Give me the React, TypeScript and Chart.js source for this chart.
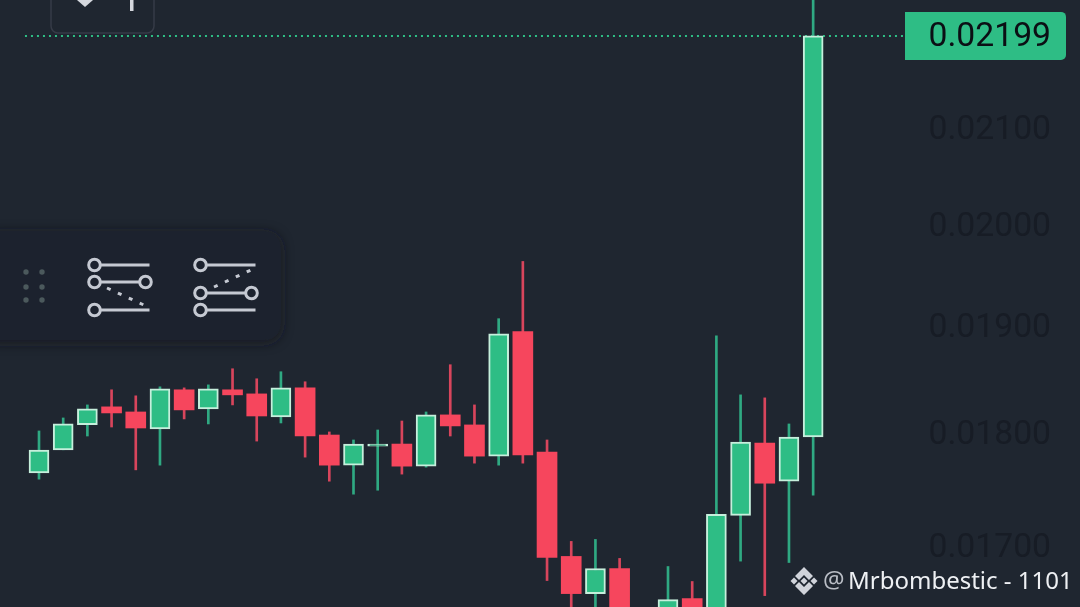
import React, { useEffect, useRef } from "react";
import { Chart, registerables } from "chart.js";

Chart.register(...registerables);

const indexes = Array.from({ length: 33 }, (_, i) => i);
const highs = [0.018004,0.018123,0.018243,0.018383,0.018327,0.018411,0.018401,0.018429,0.01858,0.018486,0.018552,0.018458,0.017995,0.017922,0.018013,0.018095,0.018178,0.018618,0.018243,0.019057,0.019617,0.017922,0.017025,0.017042,0.016879,0.016422,0.01681,0.016683,0.018893,0.018336,0.018308,0.018068,0.02264];
const lows = [0.01757,0.017833,0.017958,0.01804,0.017653,0.017695,0.018114,0.018068,0.018243,0.017912,0.018077,0.017767,0.017552,0.017437,0.017472,0.017615,0.017677,0.017958,0.017713,0.017695,0.017713,0.016691,0.016355,0.016314,0.015986,0.015986,0.016027,0.015986,0.015946,0.016856,0.016564,0.016844,0.017428];
const opens = [0.017626,0.017833,0.018062,0.018225,0.018178,0.018022,0.018383,0.018206,0.018383,0.018345,0.018132,0.018401,0.017967,0.017695,0.017867,0.017885,0.017686,0.018151,0.018059,0.017776,0.018932,0.017813,0.016896,0.016581,0.016793,0.016314,0.01619,0.016539,0.016108,0.017251,0.017894,0.017552,0.017949];
const closes = [0.017831,0.018068,0.018206,0.018169,0.018031,0.018392,0.018197,0.018392,0.018336,0.018141,0.018401,0.017958,0.017695,0.017885,0.017885,0.017686,0.018151,0.01805,0.017776,0.018912,0.017786,0.016887,0.016581,0.016793,0.01619,0.016108,0.016531,0.016108,0.01726,0.017903,0.017534,0.017949,0.02199];
const tickValues = [0.017, 0.018, 0.019, 0.02, 0.021];
const lastPrice = 0.02199;
const priceLineIndexes = [-0.58, 35.8];
const xRange = [-1.612, 43.03];
const yRange = [0.016469, 0.022393];

const GREEN = "#2ebd85";
const RED = "#f6465d";
const BG = "#1f2630";

const isUp = (i: number) => closes[i] >= opens[i];
const wicks = (up: boolean) =>
  indexes.filter((i) => isUp(i) === up).map((i) => ({ x: i, y: [lows[i], highs[i]] }));
const bodies = (up: boolean) =>
  indexes.filter((i) => isUp(i) === up).map((i) => ({ x: i, y: [opens[i], closes[i]] }));

const priceTag = {
  id: "priceTag",
  afterDatasetsDraw(chart: any) {
    const { ctx, scales } = chart;
    const y = scales.y.getPixelForValue(lastPrice);
    ctx.save();
    ctx.fillStyle = GREEN;
    ctx.beginPath();
    ctx.roundRect(905, y - 24, 161, 48, [0, 5, 5, 0]);
    ctx.fill();
    ctx.fillStyle = "#0b0f14";
    ctx.font = "33.7px Roboto";
    ctx.textAlign = "right";
    ctx.textBaseline = "middle";
    ctx.fillText(lastPrice.toFixed(5), 1051, y + 1.5);
    ctx.restore();
  },
};

export default function App() {
  const ref = useRef<HTMLCanvasElement>(null);
  useEffect(() => {
    const chart = new Chart(ref.current!, {
      type: "bar",
      plugins: [priceTag],
      data: {
        datasets: [
          { label: "up body", data: bodies(true), backgroundColor: GREEN, borderColor: "#c6efdc", borderWidth: 2, borderSkipped: false, barThickness: 20, grouped: false, order: 1 },
          { label: "down body", data: bodies(false), backgroundColor: RED, borderWidth: 0, barThickness: 20, grouped: false, order: 1 },
          { label: "up wick", data: wicks(true), backgroundColor: "#2fa982", borderWidth: 0, barThickness: 2, grouped: false, order: 2 },
          { label: "down wick", data: wicks(false), backgroundColor: "#d8455c", borderWidth: 0, barThickness: 2, grouped: false, order: 2 },
          { type: "line", label: "last price", data: priceLineIndexes.map((x) => ({ x, y: lastPrice })), borderColor: GREEN, borderWidth: 2, borderDash: [2, 4], pointRadius: 0, order: 3 },
        ] as any,
      },
      options: {
        animation: false,
        responsive: false,
        maintainAspectRatio: false,
        layout: { padding: 0 },
        plugins: { legend: { display: false }, tooltip: { enabled: false }, title: { display: false } },
        scales: {
          x: { type: "linear", offset: false, min: xRange[0], max: xRange[1], display: false, grid: { display: false } },
          y: {
            type: "logarithmic",
            position: "right",
            min: yRange[0],
            max: yRange[1],
            grid: { display: false, drawTicks: false },
            border: { display: false },
            afterFit: (s: any) => { s.width = 0; },
            afterBuildTicks: (s: any) => { s.ticks = tickValues.map((value) => ({ value })); },
            ticks: {
              mirror: true,
              padding: -29,
              labelOffset: 4,
              autoSkip: false,
              color: "#171c25",
              font: { family: "Roboto", size: 33.7 },
              callback: (v: any) => Number(v).toFixed(5),
            },
          },
        },
      } as any,
    });
    return () => chart.destroy();
  }, []);

  const stroke = { stroke: "#c5c9d2", fill: "none", strokeWidth: 3 };
  const dash = { stroke: "#c5c9d2", fill: "none", strokeWidth: 3, strokeDasharray: "4 8" };
  return (
    <div style={{ position: "fixed", left: 0, top: 0, width: 1080, height: 607, background: BG, overflow: "hidden" }}>
      <canvas ref={ref} width={1080} height={607} style={{ display: "block", width: 1080, height: 607 }} />
      <svg width={1080} height={607} style={{ position: "absolute", left: 0, top: 0 }}>
        <defs>
          <filter id="sh" x="-20%" y="-30%" width="140%" height="160%">
            <feDropShadow dx="0" dy="2" stdDeviation="6" floodColor="#12161d" floodOpacity="0.85" />
          </filter>
        </defs>
        <rect x={51} y={-30} width={103} height={63} rx={7} fill={BG} stroke="#363b47" strokeWidth={1.5} />
        <path d="M77 0 L85 7 L93 0 Z" fill="#d5d8de" />
        <rect x={130} y={0} width={3.5} height={11} fill="#d5d8de" />
        <rect x={-20} y={231} width={301} height={109} rx={16} fill="#1d232d" filter="url(#sh)" />
        {[26, 42].map((x) => [272, 287, 300].map((y) => <circle key={`${x}-${y}`} cx={x} cy={y} r={2.7} fill="#4b595c" />))}
        <g {...stroke}>
          <path d="M100 265H149.500M100 282H139.500M100 310H149.500M206.500 265H255.500M206.500 293H245.500M206.500 310H255.500" />
          <circle cx={94.500} cy={265} r={5.800} /><circle cx={94.500} cy={282} r={5.800} /><circle cx={145.500} cy={282} r={5.800} /><circle cx={94.500} cy={310} r={5.800} />
          <circle cx={200.500} cy={265} r={5.800} /><circle cx={200.500} cy={293} r={5.800} /><circle cx={251.500} cy={293} r={5.800} /><circle cx={200.500} cy={310} r={5.800} />
        </g>
        <path d="M107 288L146 306" {...dash} />
        <path d="M214 287L251 270" {...dash} />
        <g fill="#d0d3da">
          <path d="M804 567 L813 576 L809 580 L804 575 L799 580 L795 576 Z" />
          <path d="M804 595 L813 586 L809 582 L804 587 L799 582 L795 586 Z" />
          <path d="M790.500 581 L794 577.500 L797.500 581 L794 584.500 Z" />
          <path d="M810.500 581 L814 577.500 L817.500 581 L814 584.500 Z" />
          <path d="M800.500 581 L804 577.500 L807.500 581 L804 584.500 Z" />
        </g>
        <text x={823} y={588} fontFamily="Noto Sans" fontSize={24} fill="#b9bdc5">@</text>
        <text x={848} y={588.500} fontFamily="Noto Sans" fontSize={24} fill="#eef0f3">Mrbombestic - 1101</text>
      </svg>
    </div>
  );
}
